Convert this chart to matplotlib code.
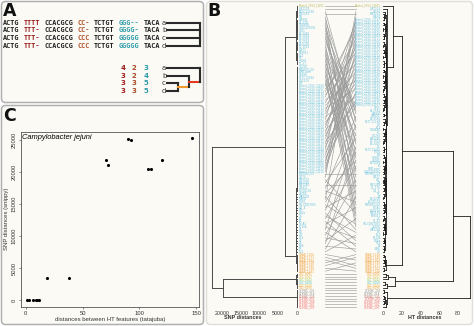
import matplotlib
matplotlib.use("Agg")
import matplotlib.pyplot as plt
from matplotlib.patches import FancyBboxPatch
import numpy as np

W, H = 474, 326

# ---------------- panel A: toy alignment and HT counts ----------------
seq_names = ["a", "b", "c", "d"]
seq_blocks = [
    ["ACTG", "TTTT", "CCACGCG", "CC-", "TCTGT", "GGG--", "TACA"],
    ["ACTG", "TTT-", "CCACGCG", "CC-", "TCTGT", "GGGG-", "TACA"],
    ["ACTG", "TTT-", "CCACGCG", "CCC", "TCTGT", "GGGGG", "TACA"],
    ["ACTG", "TTT-", "CCACGCG", "CCC", "TCTGT", "GGGGG", "TACA"],
]
block_colors = ["#1e1e1e", "#9b1c1c", "#1e1e1e", "#b0502a", "#1e1e1e", "#2b9bab", "#1e1e1e"]
ht_counts = [[4, 2, 3], [3, 2, 4], [3, 3, 5], [3, 3, 5]]
ht_colors = ["#9b1c1c", "#a84a22", "#2b9bab"]
star_gaps = [3, 3, 3]
ht_tree_gaps = [3, 2, 1]
ht_branch_colors = {(1, 3): "#e23b1f", (2, 3): "#f39a2c"}

# ---------------- panel C: SNP vs HT distances ----------------
ht_dist = [1, 3, 6, 9, 10, 12, 19, 38, 71, 72, 90, 93, 108, 110, 120, 146]
snp_dist = [0, 0, 0, 0, 0, 0, 3500, 3500, 21800, 21100, 25200, 25000, 20500, 20500, 21800, 25300]

# ---------------- panel B: tanglegram ----------------
short_a = ["Cj81116", "NCTC11168", "RM1221", "M1", "IA3902", "81-176", "CG8486",
           "ICDCCJ07001", "4031", "00-2425", "00-2426", "00-2538", "00-2544", "00-6200",
           "01-1512", "CJ677", "F38011", "R14", "S3", "YH001", "T1-21", "OD267",
           "MTVDSCj20", "CJM1cam", "32488", "NCTC13262", "YQ2210", "CJ3"]
short_b = ["MTVDSCj13", "CJ074", "RM3196", "RM1285", "RM1246", "CJ8421", "BJ-CJD101",
           "ZS004", "WP2202", "NIAH1", "FJ001", "HN-CJD07035", "CJ1_4", "C9", "D42a",
           "G1", "K1", "L9", "NY-A1", "P110b", "R1", "U2", "W7", "X12", "Y3", "Z5",
           "AR6", "BF", "EC2"]
bristol_ids = [104, 107, 111, 115, 119, 122, 126, 129, 133, 136, 140, 143, 147, 150,
               154, 158, 161, 165, 168, 172, 175, 179, 183, 186, 190, 193, 197, 201,
               204, 208, 212, 215]
orange_names = ["CHAB_1254", "CHAB_1271", "CHAB_1302", "CHAB_1318", "CHAB_1340",
                "CHAB_1366", "CHAB_1391"]
yellow_names = ["OXC_6001", "OXC_6017", "OXC_6042", "OXC_6058", "OXC_6073", "OXC_6095"]
red_names = ["CTSWE_201", "CTSWE_214", "CTSWE_233", "CTSWE_250", "CTSWE_268",
             "CTSWE_281", "CTSWE_297"]

leaf_names = (["Bristol_2013_CJ001"] + short_a
              + [f"Bristol_2015_CJ{n}" for n in bristol_ids]
              + short_b + orange_names + yellow_names + red_names)

blue = "#6cc3e0"
yellow_cols = ["#f0a23c", "#e9b83a", "#a4c64a", "#4fc0c8", "#e9b83a", "#f0a23c"]
red_cols = ["#9a9a9a", "#8c8c8c", "#b07878", "#ef6b6b", "#ef6b6b", "#f07070", "#ef6b6b"]
leaf_colors = (["#b8b455"] + [blue] * 89 + ["#f0a23c"] * 7 + yellow_cols + red_cols)

# gap heights between neighbouring leaves (SNP tree, left side)
snp_gaps = ([60, 120, 35, 90, 150, 20, 75, 110, 45, 130, 15, 85, 160, 40, 95, 55, 140,
             25, 70, 105, 50]
            + [3200]
            + [3, 5, 6, 8, 10, 11, 13, 15, 17, 18, 20, 22, 24, 26, 28, 30, 33, 35, 38, 40,
               43, 46, 49, 52, 55, 58, 61, 64, 68, 71, 75, 78, 82, 86, 90, 94, 98, 102,
               106, 110, 115, 119, 124, 128, 133, 138, 143, 148, 153, 158, 163, 168, 174,
               179, 185, 190, 196, 202, 208, 214, 220, 226, 232, 238, 242, 246, 250]
            + [280]
            + [40, 90, 25, 120, 60, 30]
            + [22600]
            + [80, 150, 30, 110, 55]
            + [19700]
            + [45, 130, 70, 20, 95, 60])

# gap heights between neighbouring leaves (HT tree, right side)
ht_gaps = ([10.7]
           + [4.0, 2.1, 0.6, 1.4, 3.2, 0.8, 1.9, 0.4, 2.6, 1.1,
              0.7, 3.4, 1.5, 0.5, 2.2, 0.9, 1.7, 0.3, 2.8, 1.2,
              0.6, 3.0, 1.0, 2.0, 0.4, 1.6, 0.8, 2.5, 1.3, 0.5,
              3.5, 0.9, 1.8, 0.6, 2.3, 1.1, 0.4, 2.9, 1.4, 3.6,
              2.0, 1.0, 3.1, 0.5, 1.6, 0.8, 2.4, 1.2, 0.3, 2.7,
              1.5, 0.6, 3.3, 1.0, 1.9, 0.4, 2.2, 0.9, 1.3, 0.7,
              2.6, 1.1, 0.5, 0.7, 1.7, 0.8, 2.1, 1.0, 0.4, 2.8,
              1.4, 0.6, 1.8, 0.9, 3.0, 1.2, 0.5, 2.3, 1.0, 0.7,
              1.6, 0.4, 2.5, 1.1, 0.8, 1.9, 0.6, 1.3]
           + [20.5]
           + [1.2, 2.6, 0.7, 1.8, 3.0, 0.9]
           + [75]
           + [3.5, 5.5, 13, 2.0, 4.2]
           + [93]
           + [1.5, 3.8, 0.8, 2.4, 1.1, 3.0])

# leaf order of the HT tree, given as indices into leaf_names
ht_order = ([0, 1, 62, 3, 70,
             41, 33, 52, 29, 46, 38, 57, 31, 44, 50, 35, 59, 30, 48, 39, 54, 32, 43, 60,
             36, 47, 56, 34, 42, 51, 37, 58, 45, 40, 53, 49, 55, 9, 13,
             5, 66, 12, 2, 74, 18, 7, 81, 22, 64, 15, 10, 86, 26, 71, 4, 20, 68, 11, 77,
             24, 8, 61, 16, 83, 28, 65, 6, 73, 19, 88, 14, 67, 23, 79, 27, 63, 17, 85, 21,
             72, 25, 69, 76, 89, 80, 75, 84, 78, 87, 82]
            + [93, 94, 90, 96, 91, 92, 95]
            + [97, 98, 99, 100, 101, 102]
            + [103, 104, 105, 106, 107, 108, 109])
assert sorted(ht_order) == list(range(len(leaf_names)))
assert len(snp_gaps) == len(ht_gaps) == len(leaf_names) - 1


def dendro_segments(gaps):
    """Ultrametric tree from neighbour gaps: split at the largest gap, recurse."""
    gaps = np.asarray(gaps, dtype=float)
    segs = []

    def rec(lo, hi):
        if lo == hi:
            return float(lo), 0.0
        k = lo + int(np.argmax(gaps[lo:hi]))
        h = gaps[k]
        y1, h1 = rec(lo, k)
        y2, h2 = rec(k + 1, hi)
        segs.append(((h1, h), (y1, y1), (lo, k)))
        segs.append(((h2, h), (y2, y2), (k + 1, hi)))
        segs.append(((h, h), (y1, y2), None))
        return (y1 + y2) / 2, h

    rec(0, len(gaps))
    return segs


def draw_tree(ax, gaps, color, lw, branch_colors=None):
    for xs, ys, tag in dendro_segments(gaps):
        c = color
        if branch_colors and tag in branch_colors:
            c = branch_colors[tag]
        ax.plot(xs, ys, color=c, lw=lw, solid_capstyle="projecting", clip_on=False)


def px_rect(x0, y0, x1, y1):
    return [x0 / W, 1 - y1 / H, (x1 - x0) / W, (y1 - y0) / H]


fig = plt.figure(figsize=(W / 100, H / 100), dpi=100)
fig.patch.set_facecolor("white")

canvas = fig.add_axes([0, 0, 1, 1])
canvas.set_xlim(0, W)
canvas.set_ylim(H, 0)
canvas.axis("off")

panel_face = "#fbfaf5"
for (x0, y0, x1, y1), ec in [((1.5, 1.5, 203.5, 102.5), "#b0b0b0"),
                             ((1.5, 105.5, 203.5, 324.5), "#b0b0b0"),
                             ((206.5, 1.5, 472.5, 324.5), "#e2e0da")]:
    canvas.add_patch(FancyBboxPatch((x0, y0), x1 - x0, y1 - y0,
                                    boxstyle="round,pad=0,rounding_size=4",
                                    fc=panel_face, ec=ec, lw=1.1))

for letter, (x, y) in zip("ABC", [(3, 11), (207, 11), (3, 116)]):
    canvas.text(x, y, letter, fontsize=12.5, fontweight="heavy", va="center",
                ha="left", color="#111111")

# alignment rows
char_w = 4.14
for r, blocks in enumerate(seq_blocks):
    y = 22.7 + r * 7.67
    col = 0
    for text, c in zip(blocks, block_colors):
        canvas.text(3 + col * char_w, y, text, family="DejaVu Sans Mono",
                    fontweight="bold", fontsize=4.9, color=c, va="center", ha="left")
        col += len(text) + 1
    canvas.text(162, y, seq_names[r], fontsize=5, color="#333333", va="center")

# HT count matrix
for r, row in enumerate(ht_counts):
    y = 68.3 + r * 7.57
    for j, v in enumerate(row):
        canvas.text(122.7 + j * 11.5, y, str(v), fontsize=5, fontweight="bold",
                    color=ht_colors[j], ha="center", va="center")
    canvas.text(162, y, seq_names[r], fontsize=5, color="#333333", va="center")

ax_star = fig.add_axes(px_rect(167, 22.7, 200, 45.7))
ax_star.set_xlim(0, 3)
ax_star.set_ylim(3, 0)
ax_star.axis("off")
draw_tree(ax_star, star_gaps, "#2a2a2a", 1.5)

ax_ht = fig.add_axes(px_rect(167, 68.3, 200, 91))
ax_ht.set_xlim(0, 3)
ax_ht.set_ylim(3, 0)
ax_ht.axis("off")
draw_tree(ax_ht, ht_tree_gaps, "#2a2a2a", 1.5, ht_branch_colors)

# ---- panel C scatter ----
axC = fig.add_axes(px_rect(20.7, 131.7, 199, 306.7))
axC.set_facecolor("none")
axC.scatter(ht_dist, snp_dist, s=5, c="black", linewidths=0, zorder=3)
axC.set_xlim(-4.5, 152.5)
axC.set_ylim(-1010, 26270)
axC.set_xticks([0, 50, 100, 150])
axC.set_yticks([0, 5000, 10000, 15000, 20000, 25000])
for s in axC.spines.values():
    s.set_color("#555555")
    s.set_linewidth(0.6)
axC.tick_params(length=1.6, width=0.5, color="#555555", labelsize=4.2, pad=1.5,
                labelcolor="#333333")
for lab in axC.get_yticklabels():
    lab.set_rotation(90)
    lab.set_va("center")
for lab in axC.get_xticklabels() + axC.get_yticklabels():
    lab.set_family("Liberation Sans")
axC.set_xlabel("distances between HT features (tatajuba)", fontsize=4.3,
               family="Liberation Sans", color="#333333", labelpad=1)
axC.set_ylabel("SNP distances (snippy)", fontsize=4.3, family="Liberation Sans",
               color="#333333", labelpad=1.5)
axC.text(0.01, 0.985, "Campylobacter jejuni", transform=axC.transAxes,
         style="italic", fontsize=5.4, family="Liberation Sans", va="top", ha="left")

# ---- panel B tanglegram ----
n_leaf = len(leaf_names)
axL = fig.add_axes(px_rect(210, 6, 297, 307))
axM = fig.add_axes(px_rect(297, 6, 383, 307))
axR = fig.add_axes(px_rect(383, 6, 472, 307))
for ax in (axL, axM, axR):
    ax.set_facecolor("none")
    ax.set_ylim(n_leaf - 1, 0)
    for s in ax.spines.values():
        s.set_visible(False)
    ax.set_yticks([])

draw_tree(axL, snp_gaps, "#4a4a4a", 0.7)
axL.set_xlim(23200, 0)
axL.set_xticks([20000, 15000, 10000, 5000, 0])
axR.set_xlim(0, 94.9)
axR.set_xticks([0, 20, 40, 60, 80])
draw_tree(axR, ht_gaps, "#1c1c1c", 0.6)
for ax, label, lx in [(axL, "SNP distances", 0.38), (axR, "HT distances", 0.47)]:
    ax.tick_params(length=0, pad=3, labelsize=3.8, labelcolor="#333333")
    for lab in ax.get_xticklabels():
        lab.set_family("Liberation Sans")
    ax.set_xlabel(label, fontsize=3.9, fontweight="bold", family="Liberation Sans",
                  color="#333333", labelpad=0.5)
    ax.xaxis.set_label_coords(lx, -0.028)

axM.set_xlim(0, 1)
axM.set_xticks([])
right_pos = {leaf: r for r, leaf in enumerate(ht_order)}
for i, name in enumerate(leaf_names):
    r = right_pos[i]
    axM.plot([0.33, 0.685], [i, r], color="#9c9c9c", lw=0.45, clip_on=False)
    axM.text(0.025, i, name, fontsize=2.0, color=leaf_colors[i], va="center",
             ha="left", clip_on=False)
    axM.text(0.975, r, name, fontsize=2.0, color=leaf_colors[i], va="center",
             ha="right", clip_on=False)

fig.savefig("out.png", dpi=100, facecolor=fig.get_facecolor())
